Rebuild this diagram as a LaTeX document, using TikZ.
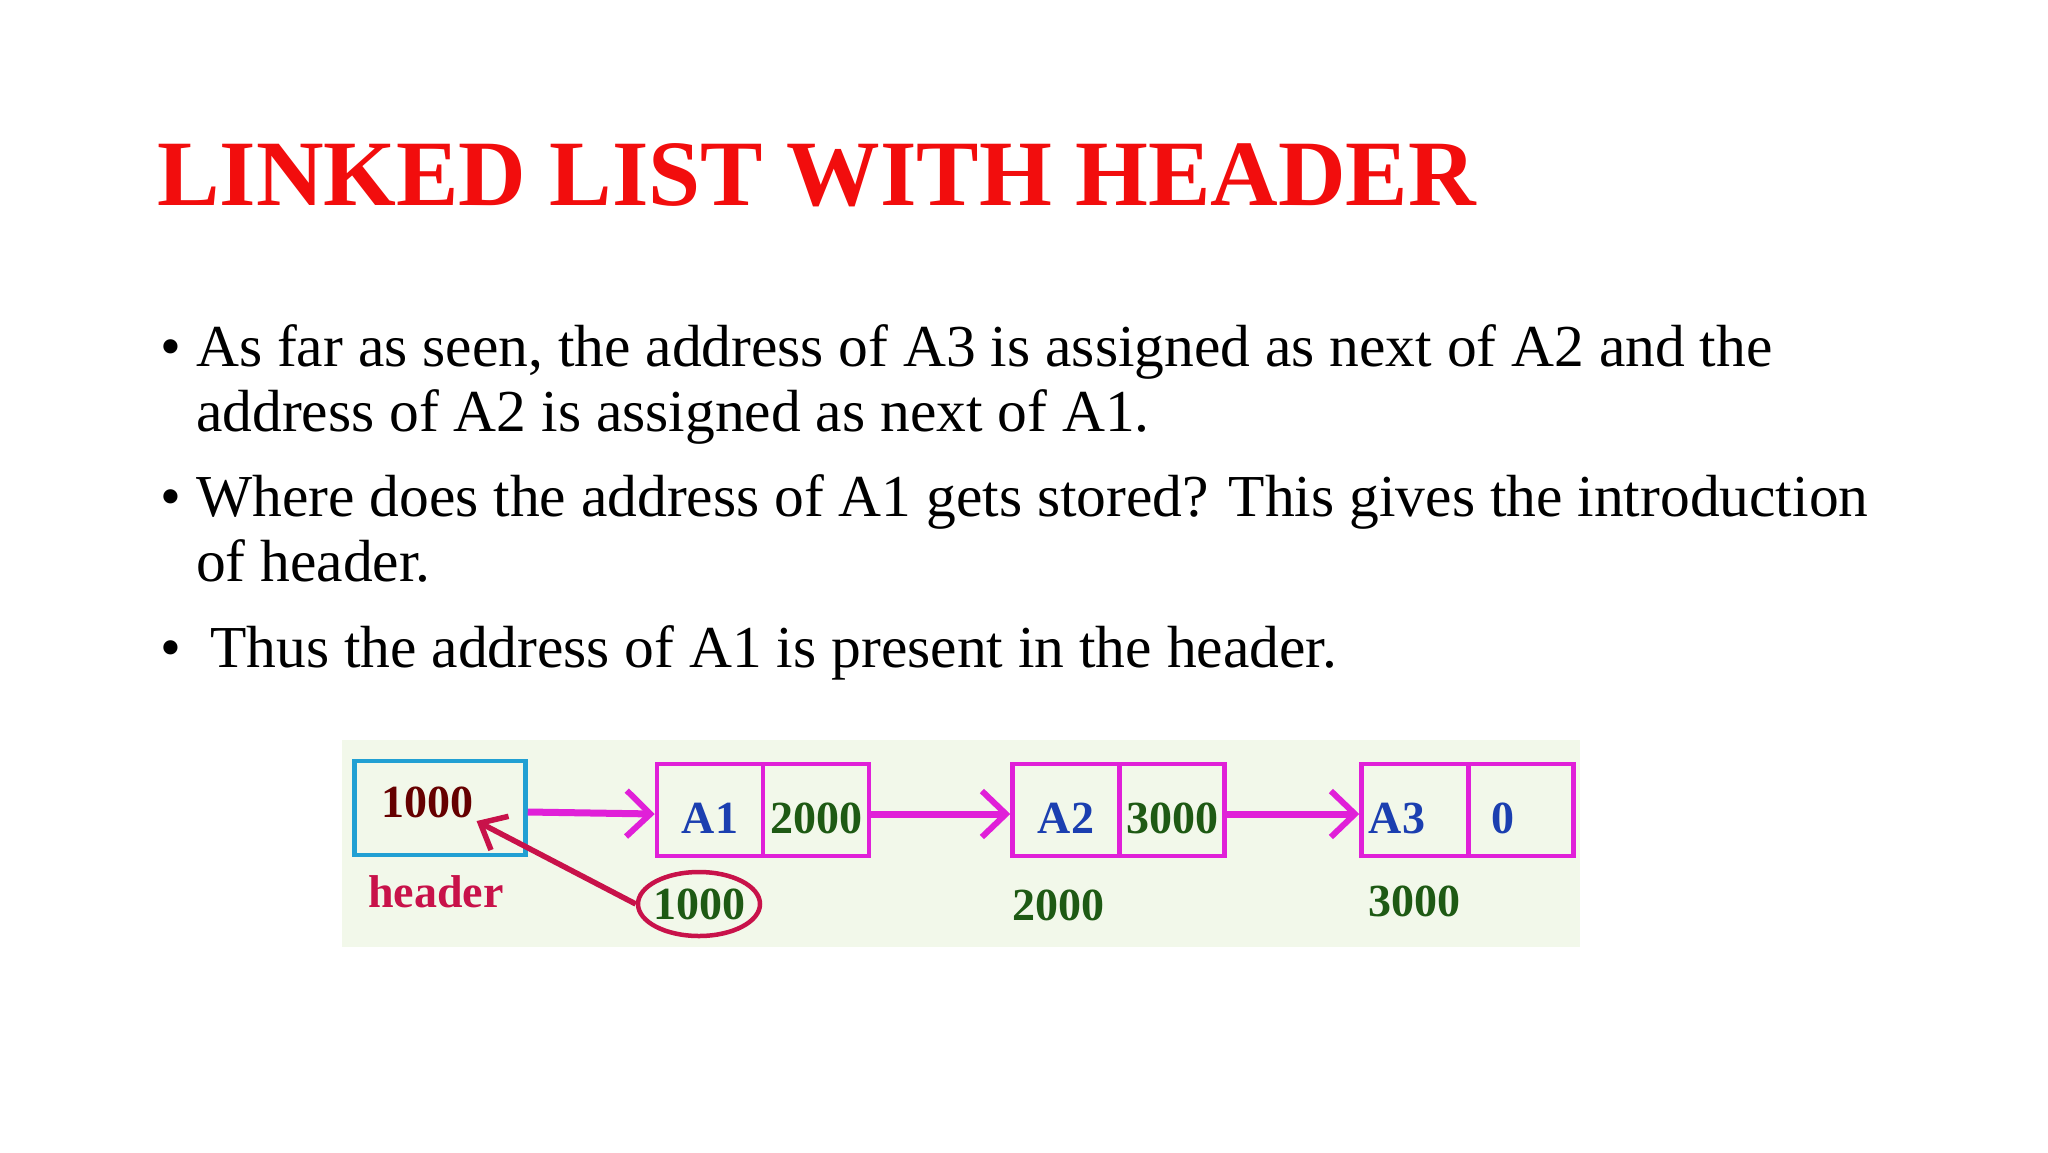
\documentclass[tikz,border=0pt]{standalone}
\usepackage{fontspec}
\setmainfont{Liberation Serif}
\usetikzlibrary{arrows.meta,shapes.geometric}
\definecolor{ttl}{HTML}{F20D0D}
\definecolor{mag}{HTML}{E020D8}
\definecolor{bg}{HTML}{F2F8EA}
\definecolor{dgreen}{HTML}{1E5A14}
\definecolor{dblue}{HTML}{1B3FB0}
\definecolor{crim}{HTML}{C8124A}
\tikzset{
 body/.style={anchor=base west,inner sep=0,font=\fontsize{59.5}{62}\selectfont},
 cell/.style={draw=mag,line width=4.5pt,minimum height=92pt,inner sep=0},
 num/.style={font=\fontsize{46}{50}\selectfont\bfseries},
 link/.style={draw=mag,line width=7pt,-{Straight Barb[length=24pt,width=46pt,line width=6pt]}}
}
\begin{document}
\begin{tikzpicture}[x=1pt,y=-1pt]
\path[use as bounding box,fill=white] (0,0) rectangle (2048,1152);
\node[anchor=base west,inner sep=0,text=ttl,font=\fontsize{93.6}{100}\selectfont\bfseries] (title) at (157,205) {LINKED LIST WITH HEADER};
\node[body] (b1) at (160,366) {•};
\node[body] (t1) at (196,366) {As far as seen, the address of A3 is assigned as next of A2 and the};
\node[body] (t1b) at (196,431) {address of A2 is assigned as next of A1.};
\node[body] (b2) at (160,516) {•};
\node[body] (t2) at (196,516) {Where does the address of A1 gets stored? This gives the introduction};
\node[body] (t2b) at (196,581) {of header.};
\node[body] (b3) at (160,667) {•};
\node[body] (t3) at (210,667) {Thus the address of A1 is present in the header.};
\fill[bg] (342,740) rectangle (1580,947);
\node[draw=cyan!70!teal,line width=4.5pt,minimum width=171pt,minimum height=94pt,inner sep=0] (h) at (440,808) {};
\node[num,text=red!40!black] (hn) at (427,802) {1000};
\node[cell,minimum width=106pt] (a1) at (710,810) {};
\node[cell,minimum width=106pt] (a1n) at (816,810) {};
\node[num,text=dblue] at ([yshift=-8pt]a1.center) {A1};
\node[num,text=dgreen] at ([yshift=-8pt]a1n.center) {2000};
\node[cell,minimum width=107pt] (a2) at (1066,810) {};
\node[cell,minimum width=105pt] (a2n) at (1172,810) {};
\node[num,text=dblue] at ([yshift=-8pt]a2.center) {A2};
\node[num,text=dgreen] at ([yshift=-8pt]a2n.center) {3000};
\node[cell,minimum width=107pt] (a3) at (1415,810) {};
\node[cell,minimum width=105pt] (a3n) at (1521,810) {};
\node[num,text=dblue] at ([xshift=-18pt,yshift=-8pt]a3.center) {A3};
\node[num,text=dblue] at ([xshift=-18pt,yshift=-8pt]a3n.center) {0};
\node[num,text=crim] (hl) at (436,892) {header};
\node[num,text=dgreen] (c1) at (699,904) {1000};
\node[draw=crim,line width=4.5pt,ellipse,minimum width=122pt,minimum height=64pt] (ell) at (699,904) {};
\node[num,text=dgreen] (l2) at (1058,905) {2000};
\node[num,text=dgreen] (l3) at (1414,901) {3000};
\draw[link] ([yshift=-4pt]h.east) -- ([yshift=-4pt]a1.west);
\draw[link] ([yshift=-4pt]a1n.east) -- ([yshift=-4pt]a2.west);
\draw[link] ([yshift=-4pt]a2n.east) -- ([yshift=-4pt]a3.west);
\draw[draw=crim,line width=5.5pt,-{Straight Barb[length=22pt,width=38pt,line width=5.5pt]}] (ell.west) -- (hn.south east);
\end{tikzpicture}
\end{document}
